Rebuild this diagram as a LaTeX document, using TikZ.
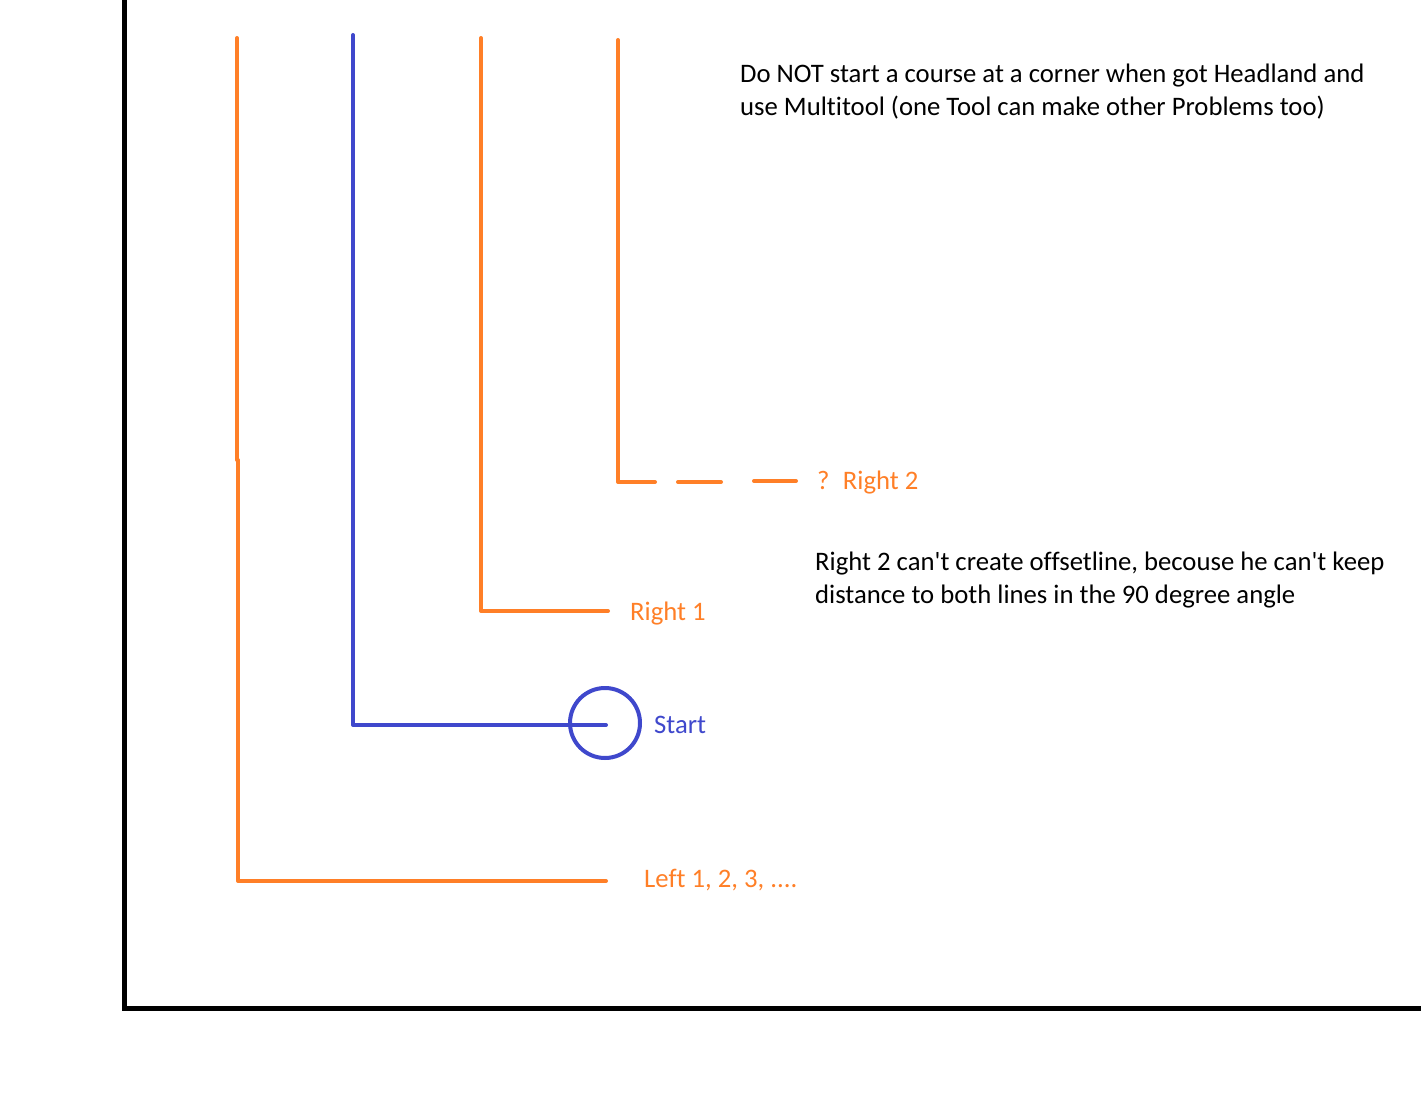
\documentclass[tikz,border=0pt]{standalone}
\usepackage{fontspec}
\setmainfont{Carlito}[Ligatures = NoCommon]
\definecolor{pathorange}{HTML}{FF7F27}
\definecolor{pathblue}{HTML}{3F48CC}
\tikzset{
	track/.style = {line width = 4pt, line cap = round, line join = round},
	label/.style = {anchor = base west, inner sep = 0pt, font = \fontsize{26.7}{33}\selectfont},
	note/.style = {label, align = left}
}

\begin{document}
\begin{tikzpicture}[x = 1pt, y = -1pt]

	\useasboundingbox (0, 0) rectangle (1421, 1108);

	% Field border
	
	\draw [line width = 5pt] (124, -5) -- (124, 1008) -- (1426, 1008);
	
	% Left course with label
	
	\coordinate (lefttop) at (237, 38);
	\coordinate (leftcorner) at (238, 881);
	\coordinate (leftend) at (606, 881);
	\draw [track, pathorange] (lefttop) -- (237, 460) -- (238, 460) -- (leftcorner) -- (leftend);
	\node (leftlabel) at (644, 887) [label, pathorange] {Left 1, 2, 3, ....};
	
	% Start course with circle
	
	\coordinate (starttop) at (353, 35);
	\coordinate (startcorner) at (353, 725);
	\coordinate (startend) at (606, 725);
	\draw [track, pathblue] (starttop) -- (startcorner) -- (startend);
	\draw [line width = 4pt, pathblue] (605, 723) circle (35);
	\node (startlabel) at (654, 733) [label, pathblue] {Start};
	
	% Right 1
	
	\coordinate (rightatop) at (481, 38);
	\coordinate (rightacorner) at (481, 611);
	\coordinate (rightaend) at (608, 611);
	\draw [track, pathorange] (rightatop) -- (rightacorner) -- (rightaend);
	\node (rightalabel) at (630, 620) [label, pathorange] {Right 1};
	
	% Right 2, broken offset
	
	\coordinate (rightbtop) at (618, 40);
	\coordinate (rightbcorner) at (618, 482);
	\draw [track, pathorange] (rightbtop) -- (rightbcorner) -- (655, 482);
	\draw [track, pathorange] (678, 482) -- (721, 482);
	\draw [track, pathorange] (754, 481) -- (796, 481);
	\node (rightblabel) at (817, 489) [label, pathorange] {?\hspace{0.5em}Right 2};
	
	% Notes (base anchor sits on the last line)
	
	\node (headnote) at (740, 115) [note] {Do NOT start a course at a corner when got Headland and\\use Multitool (one Tool can make other Problems too)};
	\node (offsetnote) at (815, 603) [note] {Right 2 can\textquotesingle t create offsetline, becouse he can\textquotesingle t keep\\distance to both lines in the 90 degree angle};

\end{tikzpicture}
\end{document}
